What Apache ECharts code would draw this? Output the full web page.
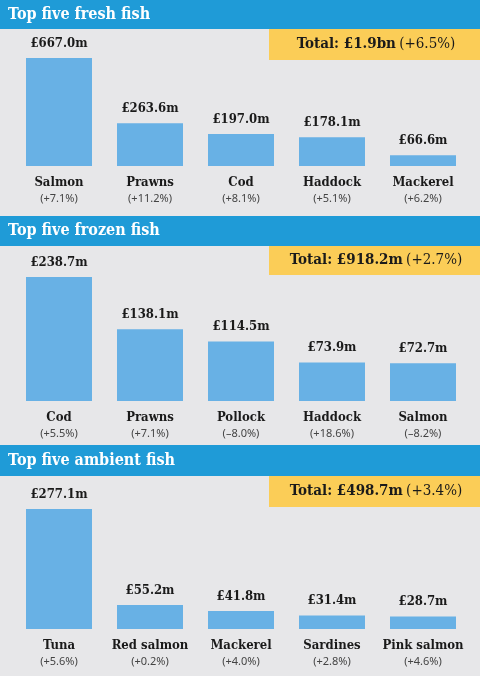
<!DOCTYPE html>
<html>
<head>
<meta charset="utf-8">
<script src="https://cdn.jsdelivr.net/npm/echarts@6/dist/echarts.min.js"></script>
<style>
html, body { margin: 0; padding: 0; background: #e7e7e9; }
#chart { width: 480px; height: 676px; }
</style>
</head>
<body>
<div id="chart"></div>
<script>
// data
const freshFish = ['Salmon', 'Prawns', 'Cod', 'Haddock', 'Mackerel']
const freshSales = [667.0, 263.6, 197.0, 178.1, 66.6]
const freshChange = ['+7.1%', '+11.2%', '+8.1%', '+5.1%', '+6.2%']

const frozenFish = ['Cod', 'Prawns', 'Pollock', 'Haddock', 'Salmon']
const frozenSales = [238.7, 138.1, 114.5, 73.9, 72.7]
const frozenChange = ['+5.5%', '+7.1%', '–8.0%', '+18.6%', '–8.2%']

const ambientFish = ['Tuna', 'Red salmon', 'Mackerel', 'Sardines', 'Pink salmon']
const ambientSales = [277.1, 55.2, 41.8, 31.4, 28.7]
const ambientChange = ['+5.6%', '+0.2%', '+4.0%', '+2.8%', '+4.6%']

const panelTitles = ['Top five fresh fish', 'Top five frozen fish', 'Top five ambient fish']
const panelTotals = ['£1.9bn', '£918.2m', '£498.7m']
const panelTotalChange = ['+6.5%', '+2.7%', '+3.4%']

// layout of the three panels (pixels)
const panels = [
  { fish: freshFish, sales: freshSales, change: freshChange, header: 0, headerH: 29, box: 29, boxH: 31, top: 58, height: 108 },
  { fish: frozenFish, sales: frozenSales, change: frozenChange, header: 216, headerH: 30, box: 246, boxH: 29, top: 277, height: 124 },
  { fish: ambientFish, sales: ambientSales, change: ambientChange, header: 445, headerH: 31, box: 476, boxH: 31, top: 509, height: 120 }
]

const serif = '"DejaVu Serif Condensed", "DejaVu Serif", serif'
const sans = '"Noto Sans", sans-serif'

const chart = echarts.init(document.getElementById('chart'))

const grid = []
const xAxis = []
const yAxis = []
const series = []
const graphic = []

panels.forEach((p, i) => {
  grid.push({ left: 13.5, width: 455, top: p.top, height: p.height })
  xAxis.push({
    type: 'category',
    gridIndex: i,
    data: p.fish,
    axisLine: { show: false },
    axisTick: { show: false },
    axisLabel: {
      interval: 0,
      margin: 9,
      formatter: (value, idx) => '{name|' + value + '}\n{chg|(' + p.change[idx] + ')}',
      rich: {
        name: { fontFamily: serif, fontWeight: 'bold', fontSize: 13, color: '#1a1a1a', lineHeight: 16 },
        chg: { fontFamily: sans, fontSize: 11, color: '#444', lineHeight: 15 }
      }
    }
  })
  yAxis.push({
    type: 'value',
    gridIndex: i,
    min: 0,
    max: v => v.max,
    show: false,
    splitLine: { show: false }
  })
  series.push({
    type: 'bar',
    xAxisIndex: i,
    yAxisIndex: i,
    data: p.sales,
    barWidth: 66,
    itemStyle: { color: '#68b1e5' },
    label: {
      show: true,
      position: 'top',
      distance: 8,
      fontFamily: serif,
      fontWeight: 'bold',
      fontSize: 13,
      color: '#1a1a1a',
      formatter: d => '£' + d.value.toFixed(1) + 'm'
    }
  })

  // header bar
  graphic.push({
    type: 'rect',
    shape: { x: 0, y: p.header, width: 480, height: p.headerH },
    style: { fill: '#1f9bd7' }
  })
  graphic.push({
    type: 'text',
    x: 8,
    y: p.header + p.headerH / 2,
    style: {
      text: panelTitles[i],
      fill: '#fff',
      font: 'bold 16px ' + serif,
      verticalAlign: 'middle'
    }
  })
  // total box
  graphic.push({
    type: 'rect',
    shape: { x: 269, y: p.box, width: 211, height: p.boxH },
    style: { fill: '#fbcd57' }
  })
  graphic.push({
    type: 'text',
    x: 376,
    y: p.box + p.boxH / 2,
    style: {
      text: '{b|Total: ' + panelTotals[i] + '} {r|(' + panelTotalChange[i] + ')}',
      align: 'center',
      verticalAlign: 'middle',
      rich: {
        b: { font: 'bold 15px ' + serif, fill: '#1a1a1a' },
        r: { font: '15px ' + serif, fill: '#1a1a1a' }
      }
    }
  })
})

chart.setOption({
  backgroundColor: '#e7e7e9',
  animation: false,
  grid: grid,
  xAxis: xAxis,
  yAxis: yAxis,
  series: series,
  graphic: graphic
})
</script>
</body>
</html>
